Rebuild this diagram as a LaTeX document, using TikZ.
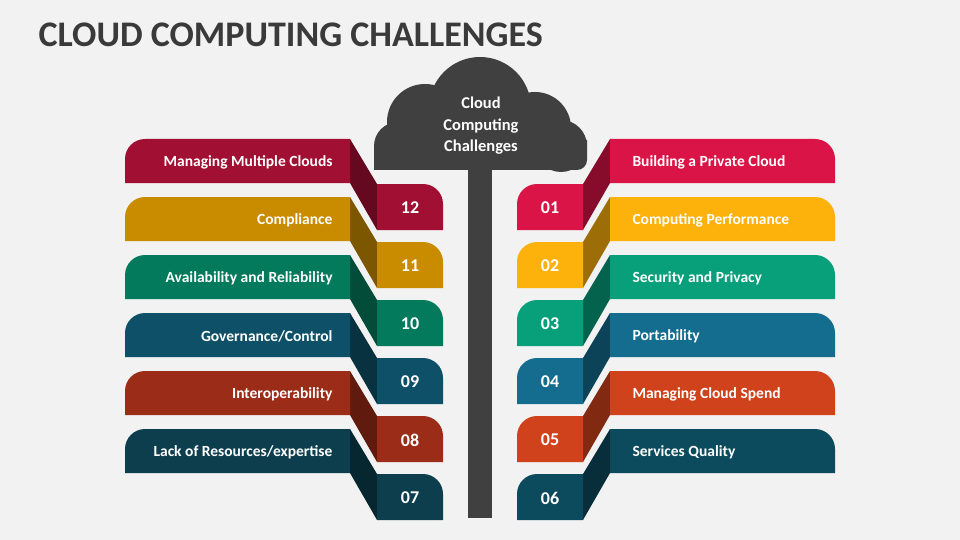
\documentclass[tikz,border=0pt]{standalone}
\usepackage{fontspec}
\setmainfont{Carlito}
\begin{document}
\begin{tikzpicture}[x=1pt,y=-1pt,
  lbl/.style={font=\bfseries\fontsize{15.5}{17}\selectfont,text=white},
  num/.style={font=\bfseries\fontsize{18}{20}\selectfont,text=white}]
\definecolor{bg}{HTML}{F2F2F2}
\definecolor{ink}{HTML}{3A3A3A}
\definecolor{trunk}{HTML}{404040}
\fill[bg] (0,0) rectangle (960,540);
\useasboundingbox (0,0) rectangle (960,540);
\node[anchor=west,font=\bfseries\fontsize{36}{40}\selectfont,text=ink] (title) at (35,35) {CLOUD COMPUTING CHALLENGES};
% trunk and cloud
\fill[trunk] (468,150) rectangle (492,518);
\fill[trunk] (374,170) [rounded corners=10] -- (374,140) [sharp corners] -- (587,140) [rounded corners=10] -- (587,170) [sharp corners] -- cycle;
\fill[trunk] (480,108) circle (51);
\fill[trunk] (425,122) circle (38);
\fill[trunk] (535,128) circle (36);
\fill[trunk] (398,146) circle (24);
\fill[trunk] (561,146) circle (26);
\node[align=center,font=\bfseries\fontsize{16.5}{21.5}\selectfont,text=white] (cloud) at (481,126) {Cloud\\Computing\\Challenges};
% left side
\foreach \i/\c/\n/\t in {0/A10F33/12/{Managing Multiple Clouds},1/C98B00/11/{Compliance},2/037A5C/10/{Availability and Reliability},3/0E5068/09/{Governance/Control},4/9B2C17/08/{Interoperability},5/0C3E4E/07/{Lack of Resources/expertise}}{
  \definecolor{cc}{HTML}{\c}
  \pgfmathsetmacro{\y}{139+58*\i}
  \fill[cc!62!black] (350,\y) -- (377,\y+45) -- (377,\y+91) -- (350,\y+44) -- cycle;
  \fill[cc] (125,\y+44) [rounded corners=20] -- (125,\y) [sharp corners] -- (350,\y) -- (350,\y+44) -- cycle;
  \fill[cc] (377,\y+45) -- (422,\y+45) [rounded corners=20] -- (443,\y+45) [sharp corners] -- (443,\y+91) -- (377,\y+91) -- cycle;
  \node[lbl,anchor=east] (L\n) at (336,\y+23) {\t};
  \node[num] (N\n) at (410,\y+69) {\n};
}
% right side
\foreach \i/\c/\n/\t in {0/DA1446/01/{Building a Private Cloud},1/FDB10B/02/{Computing Performance},2/07A07A/03/{Security and Privacy},3/146C8E/04/{Portability},4/D0421C/05/{Managing Cloud Spend},5/0C4A5E/06/{Services Quality}}{
  \definecolor{cc}{HTML}{\c}
  \pgfmathsetmacro{\y}{139+58*\i}
  \fill[cc!62!black] (610,\y) -- (583,\y+45) -- (583,\y+91) -- (610,\y+44) -- cycle;
  \fill[cc] (835,\y+44) [rounded corners=20] -- (835,\y) [sharp corners] -- (610,\y) -- (610,\y+44) -- cycle;
  \fill[cc] (583,\y+91) -- (583,\y+45) -- (538,\y+45) [rounded corners=20] -- (517,\y+45) [sharp corners] -- (517,\y+91) -- cycle;
  \node[lbl,anchor=west] (R\n) at (629,\y+23) {\t};
  \node[num] (M\n) at (550,\y+69) {\n};
}
\end{tikzpicture}
\end{document}
